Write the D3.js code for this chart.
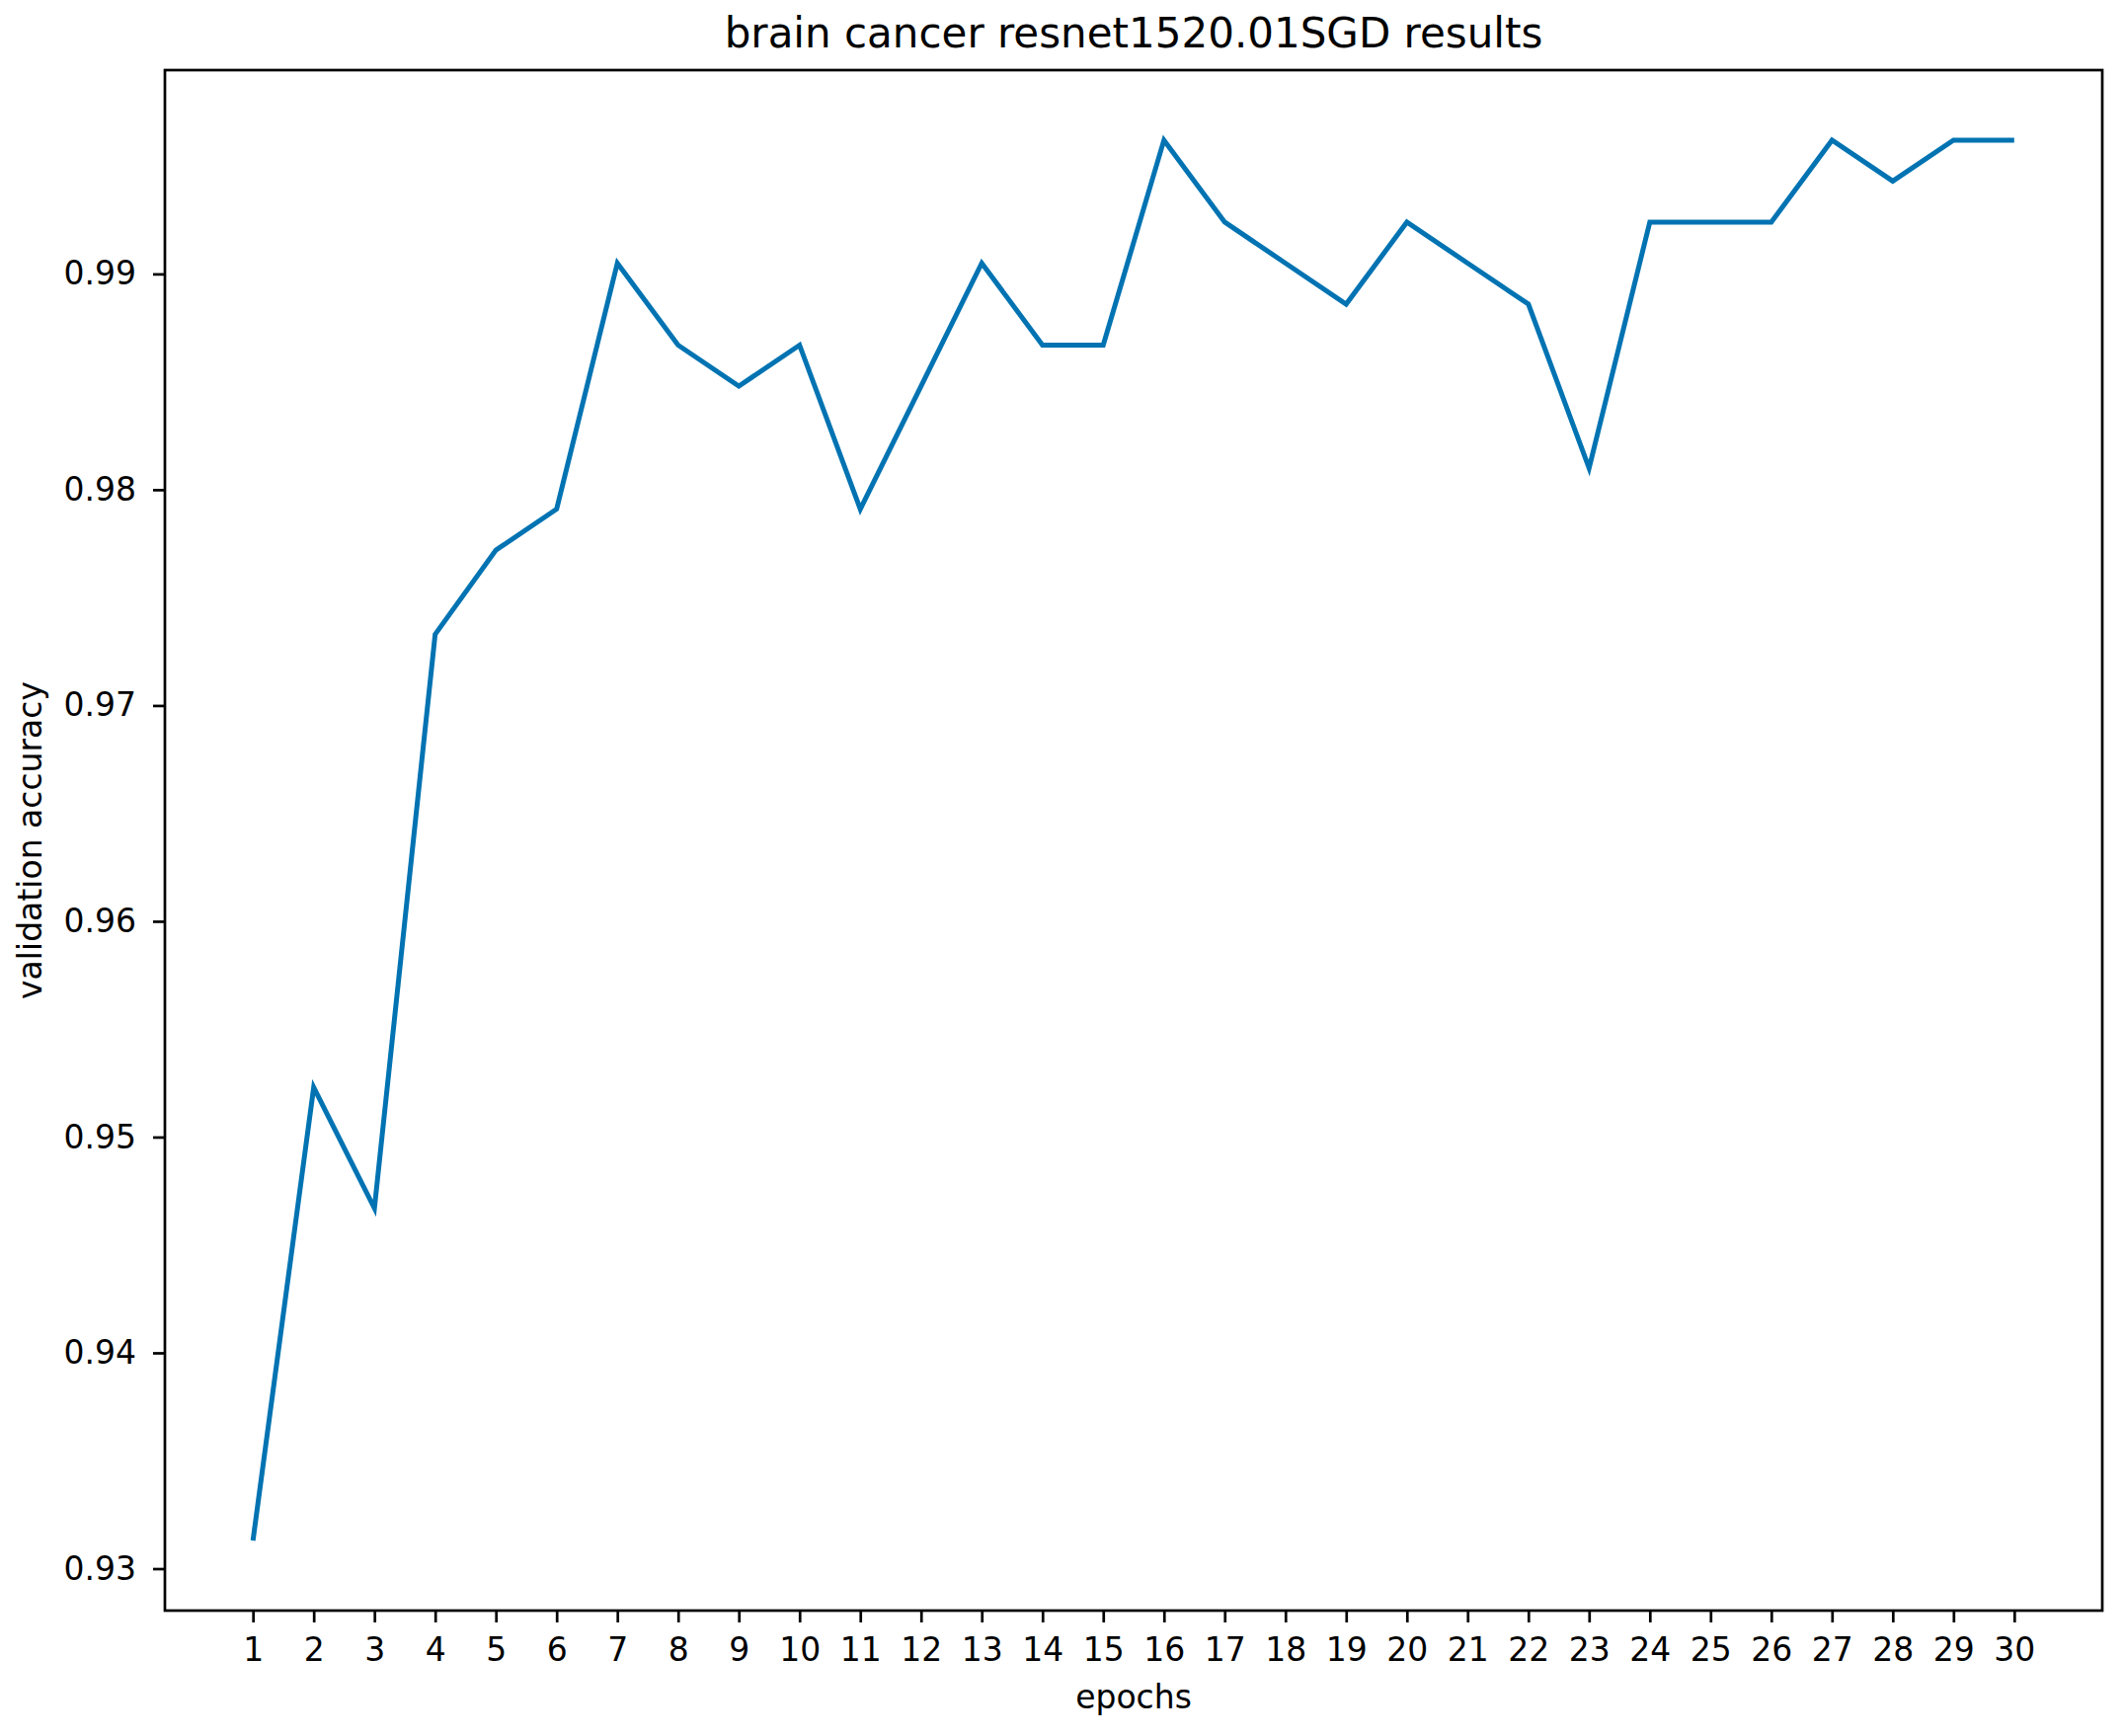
<!DOCTYPE html>
<meta charset="utf-8" />
<script src="https://d3js.org/d3.v7.min.js"></script>
<style>
  html, body { margin: 0; padding: 0; background: #fff; overflow: hidden; }
  text { font-family: "DejaVu Sans", sans-serif; fill: #000; }
</style>
<div id="chart"></div>
<script>
  var width = 2151;
  var height = 1758;
  var margin = { top: 71, right: 22, bottom: 127, left: 167 };

  var titleText = "brain cancer resnet1520.01SGD results";
  var xLabel = "epochs";
  var yLabel = "validation accuracy";

  var epochs = d3.range(1, 31);
  var accuracy = [
    0.9313, 0.9523, 0.9467, 0.9733, 0.9772, 0.9791, 0.9905, 0.9867, 0.9848, 0.9867,
    0.9791, 0.9848, 0.9905, 0.9867, 0.9867, 0.9962, 0.9924, 0.9905, 0.9886, 0.9924,
    0.9905, 0.9886, 0.9810, 0.9924, 0.9924, 0.9924, 0.9962, 0.9943, 0.9962, 0.9962
  ];
  var yTicks = [0.93, 0.94, 0.95, 0.96, 0.97, 0.98, 0.99];

  var data = epochs.map(function(e, i) {
    return { epoch: e, acc: accuracy[i] };
  });

  var w = width - margin.left - margin.right;
  var h = height - margin.top - margin.bottom;

  // matplotlib-style 5% margins
  function padded(ext) {
    var r = ext[1] - ext[0];
    return [ext[0] - 0.05 * r, ext[1] + 0.05 * r];
  }

  var x = d3.scaleLinear().domain(padded(d3.extent(epochs))).range([0, w]);
  var y = d3.scaleLinear().domain(padded(d3.extent(accuracy))).range([h, 0]);

  var svg = d3
    .select("#chart")
    .append("svg")
    .attr("width", width)
    .attr("height", height);

  var g = svg
    .append("g")
    .attr("transform", "translate(" + margin.left + "," + margin.top + ")");

  var line = d3
    .line()
    .x(function(d) { return x(d.epoch); })
    .y(function(d) { return y(d.acc); });

  g.append("path")
    .datum(data)
    .attr("fill", "none")
    .attr("stroke", "#0173b2")
    .attr("stroke-width", 5)
    .attr("stroke-linejoin", "miter")
    .attr("d", line);

  var xAxis = g
    .append("g")
    .attr("transform", "translate(0," + h + ")")
    .call(
      d3.axisBottom(x)
        .tickValues(epochs)
        .tickFormat(d3.format("d"))
        .tickSize(12)
        .tickSizeOuter(0)
        .tickPadding(16)
    );

  var yAxis = g
    .append("g")
    .call(
      d3.axisLeft(y)
        .tickValues(yTicks)
        .tickFormat(d3.format(".2f"))
        .tickSize(12)
        .tickSizeOuter(0)
        .tickPadding(17)
    );

  [xAxis, yAxis].forEach(function(ax) {
    ax.select(".domain").remove();
    ax.selectAll(".tick line").attr("stroke", "#000").attr("stroke-width", 2.7);
    ax.selectAll(".tick text")
      .style("font-family", "DejaVu Sans")
      .style("font-size", "33px")
      .attr("fill", "#000");
  });

  // frame
  g.append("rect")
    .attr("x", 0)
    .attr("y", 0)
    .attr("width", w)
    .attr("height", h)
    .attr("fill", "none")
    .attr("stroke", "#000")
    .attr("stroke-width", 2.7);

  svg.append("text")
    .attr("x", margin.left + w / 2)
    .attr("y", 48)
    .attr("text-anchor", "middle")
    .style("font-size", "42px")
    .text(titleText);

  svg.append("text")
    .attr("x", margin.left + w / 2)
    .attr("y", 1730)
    .attr("text-anchor", "middle")
    .style("font-size", "33px")
    .text(xLabel);

  svg.append("text")
    .attr("transform", "translate(42," + (margin.top + h / 2) + ") rotate(-90)")
    .attr("text-anchor", "middle")
    .style("font-size", "33px")
    .text(yLabel);
</script>
